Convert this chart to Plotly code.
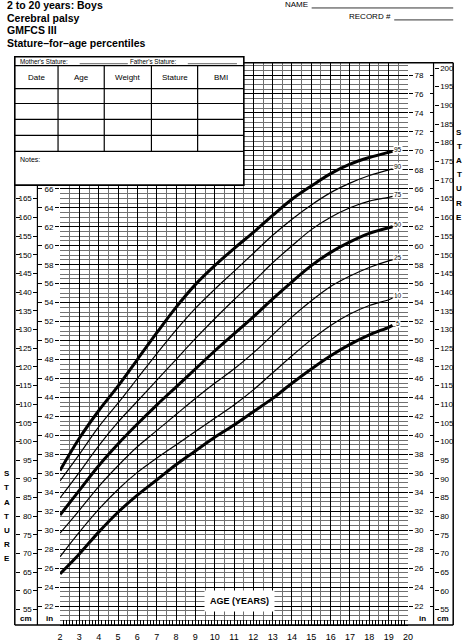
import plotly.graph_objects as go

W, H = 470, 642
FONT = "Liberation Sans, Arial, sans-serif"

# percentile curves, stature in inches
AGES = [2, 3, 4, 5, 6, 7, 8, 9, 10, 11, 12, 13, 14, 15, 16, 17, 18, 19, 19.2]
P95 = [36.3, 39.7, 42.6, 45.2, 48.0, 50.8, 53.5, 55.9, 57.9, 59.7, 61.4, 63.2, 64.9, 66.3, 67.6, 68.6, 69.3, 69.85, 69.95]
P90 = [35.2, 38.0, 40.9, 43.4, 46.0, 48.6, 51.1, 53.4, 55.4, 57.3, 59.2, 61.1, 62.8, 64.3, 65.6, 66.6, 67.4, 68.0, 68.1]
P75 = [33.4, 36.1, 38.9, 41.4, 43.6, 45.8, 48.0, 50.2, 52.3, 54.3, 56.2, 58.2, 60.0, 61.7, 63.0, 64.0, 64.7, 65.1, 65.2]
P50 = [31.6, 34.2, 36.8, 39.1, 41.2, 43.2, 45.1, 47.0, 48.9, 50.7, 52.5, 54.4, 56.2, 57.9, 59.3, 60.4, 61.3, 61.9, 62.0]
P25 = [29.7, 32.1, 34.6, 36.8, 38.8, 40.5, 42.2, 43.9, 45.5, 47.0, 48.7, 50.6, 52.5, 54.2, 55.7, 56.8, 57.7, 58.4, 58.5]
P10 = [27.2, 29.8, 32.2, 34.3, 36.1, 37.6, 39.0, 40.4, 41.8, 43.2, 44.8, 46.6, 48.4, 50.1, 51.6, 52.8, 53.7, 54.3, 54.5]
P5 = [25.4, 27.5, 29.8, 31.9, 33.7, 35.3, 36.9, 38.35, 39.8, 41.1, 42.5, 43.9, 45.5, 47.0, 48.4, 49.6, 50.6, 51.4, 51.6]

CURVES = [("95", P95, True), ("90", P90, False), ("75", P75, False), ("50", P50, True),
          ("25", P25, False), ("10", P10, False), ("5", P5, True)]

AGE_TICKS = list(range(2, 21))
IN_LEFT = list(range(22, 67, 2))
IN_RIGHT = list(range(22, 79, 2))
CM_LEFT = list(range(55, 166, 5))
CM_RIGHT = list(range(55, 201, 5))

TITLE_LINES = ["2 to 20 years: Boys", "Cerebral palsy", "GMFCS III", "Stature\u2013for\u2013age percentiles"]
TABLE_HEAD = ["Date", "Age", "Weight", "Stature", "BMI"]

Y_RANGE = [20, 79.3]
CM = 2.54


def px(x):
    return x / W


def py(y):
    return 1 - y / H


fig = go.Figure()

for name, vals, bold in CURVES:
    fig.add_trace(
        go.Scatter(
            x=AGES, y=vals, mode="lines", line_shape="spline",
            line=dict(color="black", width=3 if bold else 1.2),
            showlegend=False, hoverinfo="skip",
        )
    )

# empty traces so that every scale axis gets drawn
for xa, ya in [("x2", "y"), ("x", "y2"), ("x", "y3"), ("x", "y4"), ("x", "y5"),
               ("x", "y6"), ("x", "y7"), ("x", "y8")]:
    fig.add_trace(go.Scatter(x=[None], y=[None], xaxis=xa, yaxis=ya, mode="lines",
                             showlegend=False, hoverinfo="skip"))

shapes = []


def line(x0, y0, x1, y1, w=1.0):
    shapes.append(dict(type="line", xref="paper", yref="paper", x0=px(x0), y0=py(y0),
                       x1=px(x1), y1=py(y1), line=dict(color="black", width=w), layer="above"))


# outer frame
line(12, 186, 12, 628, 1.5)
line(35, 186, 35, 628, 1.2)
line(438, 63, 438, 628, 1.2)
line(458, 63, 458, 628, 1.5)
line(12, 628, 458, 628, 1.5)
line(245, 63, 458, 63, 1.5)

# data table in top left
shapes.append(dict(type="rect", xref="paper", yref="paper", x0=px(12), y0=py(186), x1=px(245), y1=py(57),
                   fillcolor="white", line=dict(color="black", width=1.6), layer="above"))
for yy in [66, 89, 104, 120, 136, 152]:
    line(12, yy, 245, yy, 1.2)
for xx in [56, 103, 151, 198]:
    line(xx, 66, xx, 152, 1.2)

# name / record underlines and the stature blanks in the table
line(314, 8, 458, 8, 0.8)
line(398, 20, 458, 20, 0.8)
line(78, 64, 127, 64, 0.6)
line(188, 64, 238, 64, 0.6)

ann = []


def text(x, y, s, size=8, bold=False, anchor="left"):
    ann.append(dict(xref="paper", yref="paper", x=px(x), y=py(y), text=f"<b>{s}</b>" if bold else s,
                    showarrow=False, xanchor=anchor, yanchor="middle",
                    font=dict(family=FONT, size=size, color="black")))


for i, t in enumerate(TITLE_LINES):
    text(2, 5 + i * 12.7, t, size=10.5, bold=True)

text(312, 5, "NAME", size=8, anchor="right")
text(397, 17, "RECORD #", size=8, anchor="right")

text(15, 61.5, "Mother's Stature:", size=6.3)
text(127, 61.5, "Father's Stature:", size=6.3)
centers = [34, 79.5, 127, 174.5, 221.5]
for c, h in zip(centers, TABLE_HEAD):
    text(c, 78, h, size=8, anchor="center")
text(15, 160, "Notes:", size=7)

for i, ch in enumerate("STATURE"):
    text(4, 476 + i * 14.2, ch, size=8, bold=True, anchor="center")
    text(464, 133 + i * 14.2, ch, size=8, bold=True, anchor="center")

text(23, 621, "cm", size=8, bold=True, anchor="center")
text(47, 621, "in", size=8, bold=True, anchor="center")
text(427, 621, "in", size=8, bold=True, anchor="center")
text(448, 621, "cm", size=8, bold=True, anchor="center")

ann.append(dict(xref="paper", yref="paper", x=px(241), y=py(604), text="<b>AGE (YEARS)</b>",
                showarrow=False, xanchor="center", yanchor="middle", bgcolor="white", borderpad=5,
                font=dict(family=FONT, size=9, color="black")))

# percentile labels at curve ends
for name, vals, bold in CURVES:
    ann.append(dict(x=19.47, y=vals[-1] + 0.25, xref="x", yref="y", text=name, showarrow=False,
                    xanchor="center", yanchor="middle", bgcolor="white", borderpad=0,
                    font=dict(family=FONT, size=6.5, color="black")))

tick_font = dict(family=FONT, size=8, color="black")

fig.update_layout(
    width=W, height=H, autosize=False,
    margin=dict(l=0, r=0, t=0, b=0),
    paper_bgcolor="white", plot_bgcolor="white",
    showlegend=False,
    shapes=shapes, annotations=ann,
    xaxis=dict(
        domain=[px(58), px(412)], range=[2, 20], tickvals=AGE_TICKS,
        showgrid=True, gridcolor="black", gridwidth=1.3,
        minor=dict(dtick=0.5, tick0=0, showgrid=True, gridcolor="#707070", gridwidth=0.8),
        ticks="", showline=True, mirror=True, linecolor="black", linewidth=1.3,
        ticklabelstandoff=3,
        tickfont=dict(family=FONT, size=9, color="black"), zeroline=False,
    ),
    xaxis2=dict(
        overlaying="x", anchor="y", range=[2, 20], tickmode="linear", tick0=2, dtick=1 / 6,
        ticks="inside", ticklen=5, tickwidth=0.8, tickcolor="black",
        showticklabels=False, showgrid=False, zeroline=False,
    ),
    yaxis=dict(
        domain=[py(628), py(63)], range=Y_RANGE, tickmode="linear", tick0=0, dtick=2,
        showgrid=True, gridcolor="black", gridwidth=1.3,
        minor=dict(dtick=0.5, tick0=0, showgrid=True, gridcolor="#707070", gridwidth=0.8),
        showticklabels=False, ticks="", zeroline=False,
    ),
    yaxis2=dict(
        overlaying="y", anchor="x", side="left", range=Y_RANGE, tickvals=IN_LEFT,
        ticks="outside", ticklen=4, tickcolor="black", tickfont=tick_font,
        showgrid=False, zeroline=False,
    ),
    yaxis3=dict(
        overlaying="y", anchor="free", position=px(35), side="left", range=Y_RANGE, tickvals=IN_LEFT,
        ticks="inside", ticklen=4, tickcolor="black", showticklabels=False,
        showgrid=False, zeroline=False,
    ),
    yaxis4=dict(
        overlaying="y", anchor="free", position=px(35), side="left",
        range=[Y_RANGE[0] * CM, Y_RANGE[1] * CM], tickvals=CM_LEFT,
        ticks="outside", ticklen=4, tickcolor="black", tickfont=tick_font,
        showgrid=False, zeroline=False,
    ),
    yaxis5=dict(
        overlaying="y", anchor="free", position=px(12), side="left",
        range=[Y_RANGE[0] * CM, Y_RANGE[1] * CM], tickvals=CM_LEFT,
        ticks="inside", ticklen=4, tickcolor="black", showticklabels=False,
        showgrid=False, zeroline=False,
    ),
    yaxis6=dict(
        overlaying="y", anchor="x", side="right", range=Y_RANGE, tickvals=IN_RIGHT,
        ticks="outside", ticklen=4, tickcolor="black", tickfont=tick_font,
        showgrid=False, zeroline=False,
    ),
    yaxis7=dict(
        overlaying="y", anchor="free", position=px(438), side="right", range=Y_RANGE, tickvals=IN_RIGHT,
        ticks="inside", ticklen=4, tickcolor="black", showticklabels=False,
        showgrid=False, zeroline=False,
    ),
    yaxis8=dict(
        overlaying="y", anchor="free", position=px(438), side="right",
        range=[Y_RANGE[0] * CM, Y_RANGE[1] * CM], tickvals=CM_RIGHT,
        ticks="outside", ticklen=4, tickcolor="black", tickfont=tick_font,
        showgrid=False, zeroline=False,
    ),
)

# drop the default page margin so the figure sits at the top-left corner
fig.write_html("out.html", config={"displayModeBar": False},
               post_script="document.body.style.margin='0';")
